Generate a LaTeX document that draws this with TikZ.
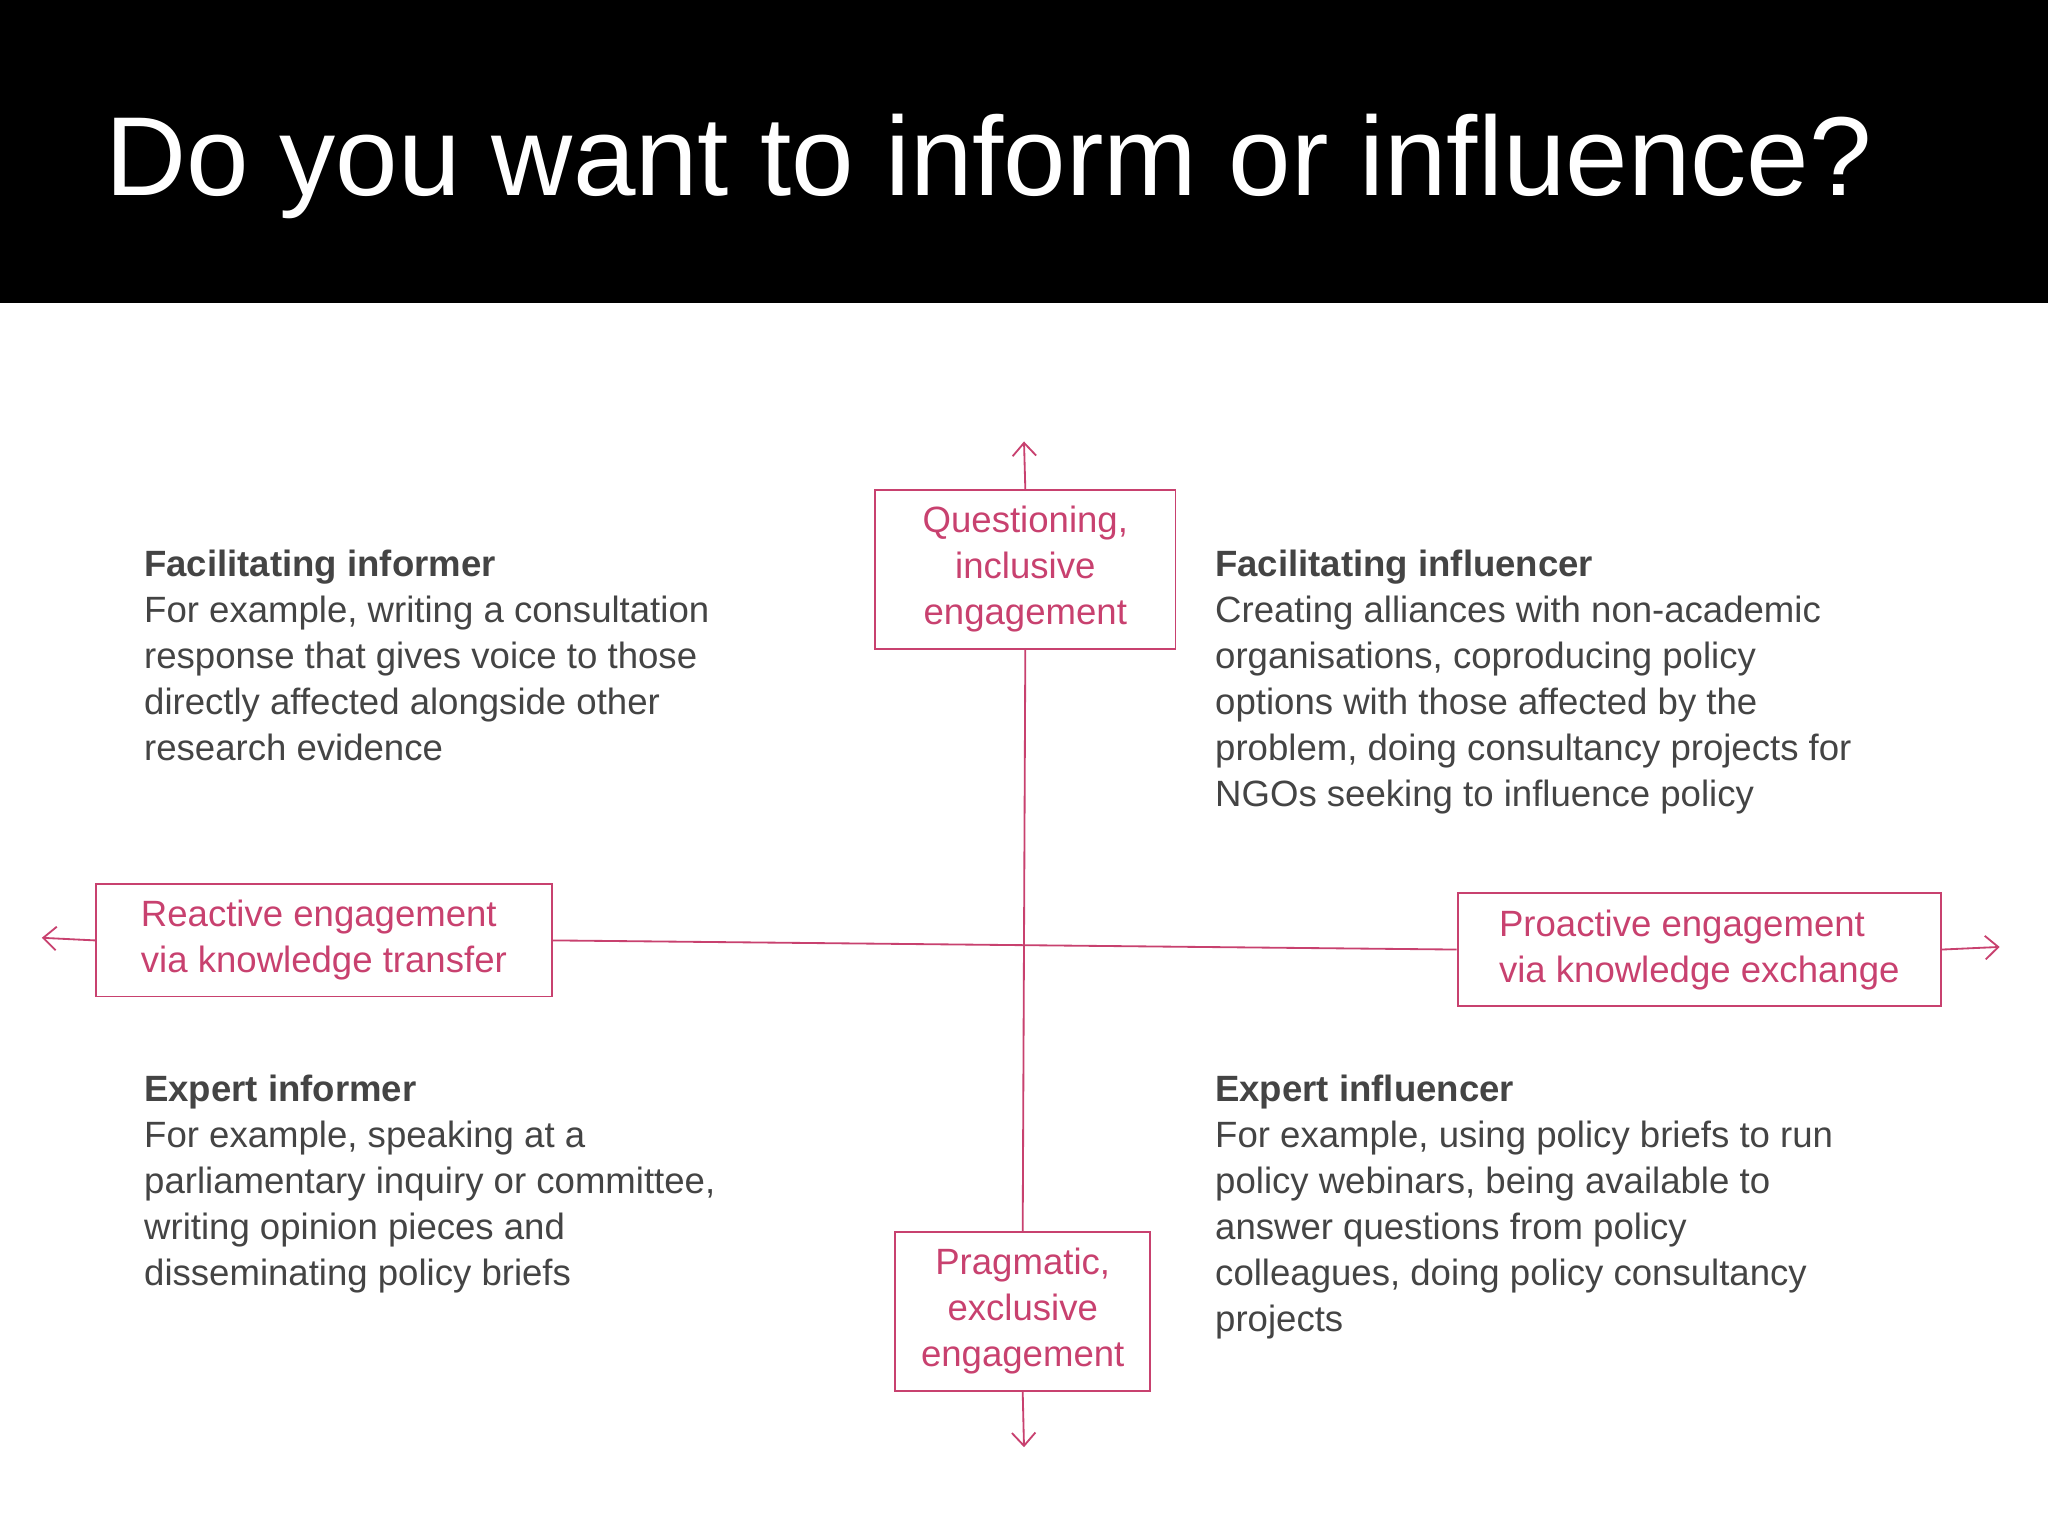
\documentclass[tikz,border=0pt]{standalone}
\usepackage{fontspec}
\setmainfont{Liberation Sans}
\usetikzlibrary{arrows.meta}
\definecolor{pk}{HTML}{C8416F}
\definecolor{tx}{HTML}{444444}
\begin{document}
\begin{tikzpicture}[x=0.5pt,y=-0.5pt,
  body/.style={anchor=north west,inner sep=0pt,align=left,text=tx,font=\fontsize{14pt}{17.6pt}\selectfont},
  pbox/.style={draw=pk,text=pk,line width=0.7pt,align=center,inner sep=0pt,font=\fontsize{14pt}{17.6pt}\selectfont},
  axis/.style={draw=pk,line width=0.7pt},
  tip/.style={-{Straight Barb[length=5pt,width=9pt]}}]
\useasboundingbox (0,0) rectangle (1568,1176);
\fill[black] (0,0) rectangle (1568,232);
\node[anchor=base west,inner sep=0pt,text=white,font=\fontsize{43pt}{50pt}\selectfont] (title) at (80,150) {Do you want to inform or influence?};
\coordinate (c) at (784,720);
\node[pbox,minimum width=115pt,minimum height=61pt] (q) at (785,436) {Questioning,\\inclusive\\engagement};
\node[pbox,minimum width=97.5pt,minimum height=61pt] (p) at (783,1004) {Pragmatic,\\exclusive\\engagement};
\node[pbox,minimum width=174.5pt,minimum height=43pt,align=left] (r) at (248,720) {Reactive engagement\\via knowledge transfer};
\node[pbox,minimum width=185pt,minimum height=43pt,align=left] (pr) at (1301,727) {Proactive engagement\\via knowledge exchange};
\coordinate (top) at (784,338);
\coordinate (bot) at (784,1108);
\coordinate (lft) at (32,718);
\coordinate (rgt) at (1531,725);
\draw[axis,tip] (q.north) -- (top);
\draw[axis] (q.south) -- (p.north);
\draw[axis,tip] (p.south) -- (bot);
\draw[axis,tip] (r.west) -- (lft);
\draw[axis] (r.east) -- (pr.west);
\draw[axis,tip] (pr.east) -- (rgt);
\node[body] (fi) at (110,421) {\textbf{Facilitating informer}\\For example, writing a consultation\\response that gives voice to those\\directly affected alongside other\\research evidence};
\node[body] (fn) at (930,421) {\textbf{Facilitating influencer}\\Creating alliances with non-academic\\organisations, coproducing policy\\options with those affected by the\\problem, doing consultancy projects for\\NGOs seeking to influence policy};
\node[body] (ei) at (110,823) {\textbf{Expert informer}\\For example, speaking at a\\parliamentary inquiry or committee,\\writing opinion pieces and\\disseminating policy briefs};
\node[body] (en) at (930,823) {\textbf{Expert influencer}\\For example, using policy briefs to run\\policy webinars, being available to\\answer questions from policy\\colleagues, doing policy consultancy\\projects};
\end{tikzpicture}
\end{document}
